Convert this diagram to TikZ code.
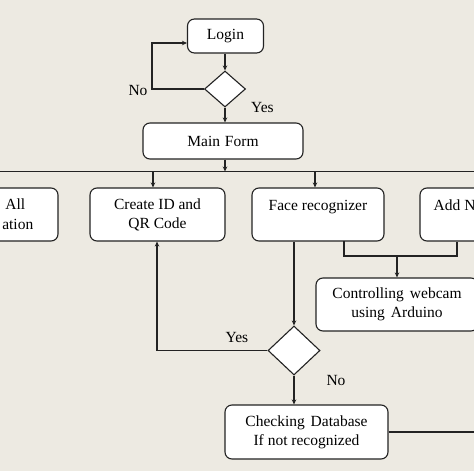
\documentclass[tikz,border=0pt]{standalone}
\usepackage{fontspec}
\setmainfont{Liberation Serif}
\usetikzlibrary{shapes.geometric,arrows.meta}
\definecolor{bg}{RGB}{237,234,226}
\definecolor{ln}{RGB}{35,35,35}
\tikzset{
  box/.style={draw=ln, line width=1.1pt, rounded corners=7pt, fill=white, inner sep=0pt, align=center, font=\fontsize{15.5}{19}\selectfont},
  dec/.style={draw=ln, line width=1.1pt, shape=diamond, fill=white, inner sep=0pt},
  conn/.style={draw=ln, line width=1.1pt},
  arr/.style={conn, -{Stealth[length=5pt,width=4.5pt]}},
  lbl/.style={font=\fontsize{15.5}{19}\selectfont, inner sep=0pt}
}
\begin{document}
\begin{tikzpicture}[x=1pt,y=-1pt]
\useasboundingbox (0,0) rectangle (474,474);
\clip (0,0) rectangle (474,474);
\fill[white] (0,0) rectangle (474,474);
\fill[bg] (0,0) rectangle (474,471);

% nodes
\node[box, minimum width=76pt, minimum height=34pt] (login) at (225.5,36) {Login};
\node[dec, minimum width=41pt, minimum height=36pt] (d1) at (225,89) {};
\node[box, minimum width=160pt, minimum height=36pt] (main) at (223,141) {Main\hspace{1pt} Form};

\node[box, minimum width=138pt, minimum height=53pt] (viewall) at (-11,214.5) {};
\node[lbl, anchor=east] (alltxt) at (25.5,204) {All};
\node[lbl, anchor=east] (atxt) at (33.5,224) {ation};
\node[box, minimum width=135pt, minimum height=53pt] (create) at (157.5,214.5) {Create ID and\\QR Code};
\node[box, minimum width=132pt, minimum height=53pt] (face) at (318,214.5) {Face recognizer\\\mbox{}};
\node[box, minimum width=130pt, minimum height=53pt] (addn) at (485,214.5) {};
\node[lbl, anchor=west] (addtxt) at (433.5,205) {Add N};

\node[box, minimum width=162pt, minimum height=53pt] (ctrl) at (397,304.5) {Controlling\hspace{6pt}webcam\\using\hspace{6pt}Arduino};
\node[dec, minimum width=52pt, minimum height=49pt] (d2) at (294,350.5) {};
\node[box, minimum width=163pt, minimum height=54pt] (check) at (306.5,432) {Checking\hspace{2pt} Database\\If not recognized};

% labels
\node[lbl] (no1) at (138,90) {No};
\node[lbl] (yes1) at (262.5,107) {Yes};
\node[lbl] (yes2) at (237,337) {Yes};
\node[lbl] (no2) at (336,380) {No};

% coordinates
\coordinate (l1) at (152,43);
\coordinate (busL) at (0,171.5);
\coordinate (busR) at (474,171.5);
\coordinate (bus) at (225,171.5);
\coordinate (b1) at (153,171.5);
\coordinate (b2) at (315,171.5);
\coordinate (f1) at (344,241);
\coordinate (h1) at (344,256);
\coordinate (h2) at (457,256);
\coordinate (hc) at (397,256);
\coordinate (y1) at (157,350.5);
\coordinate (cr) at (474,432);

% connectors
\draw[arr] (login.south -| d1) -- (d1.north);
\draw[arr] (d1.west) -| (l1) -- (l1 -| login.west);
\draw[arr] (d1.south) -- (d1.south |- main.north);
\draw[arr] (main.south -| bus) -- (bus);
\draw[conn] (busL) -- (busR);
\draw[arr] (b1) -- (b1 |- create.north);
\draw[arr] (b2) -- (b2 |- face.north);
\draw[arr] (face.south -| d2) -- (d2.north);
\draw[conn] (f1) -- (h1) -- (h2) -- (h2 |- addn.south);
\draw[arr] (hc) -- (hc |- ctrl.north);
\draw[arr] (d2.west) -- (y1) -- (y1 |- create.south);
\draw[arr] (d2.south) -- (d2.south |- check.north);
\draw[conn] (check.east) -- (cr);
\end{tikzpicture}
\end{document}
